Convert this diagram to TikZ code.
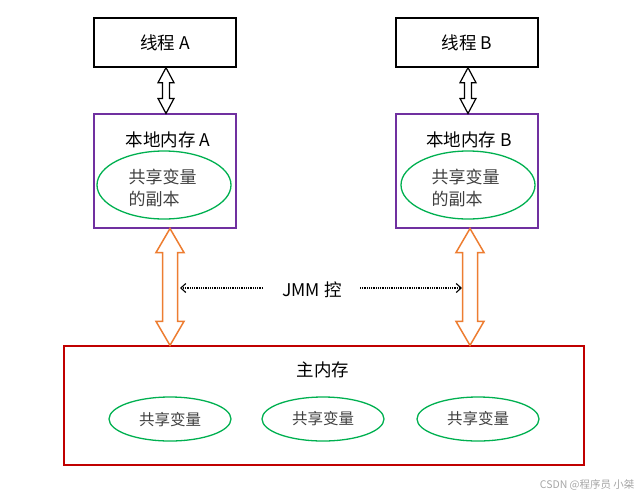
\documentclass[tikz,border=0pt]{standalone}
\usepackage{fontspec}
\setmainfont{Noto Sans CJK SC}
\usetikzlibrary{arrows.meta,calc,shapes.geometric}
\definecolor{cpurple}{HTML}{7030A0}
\definecolor{cred}{HTML}{C00000}
\definecolor{cgreen}{HTML}{00B050}
\definecolor{corange}{HTML}{ED7D31}
\tikzset{
  thread/.style={draw=black,line width=1.4pt,minimum width=142pt,minimum height=49pt,inner sep=0pt},
  local/.style={draw=cpurple,line width=1.1pt,minimum width=142pt,minimum height=114pt,inner sep=0pt},
  mainmem/.style={draw=cred,line width=1.3pt,minimum width=520pt,minimum height=119pt,inner sep=0pt},
  copyell/.style={draw=cgreen,line width=1.3pt,ellipse,minimum width=134pt,minimum height=68pt,inner sep=0pt},
  varell/.style={draw=cgreen,line width=1.3pt,ellipse,minimum width=122pt,minimum height=44pt,inner sep=0pt},
  title/.style={font=\fontsize{17.5}{20}\selectfont,text=black},
  elltext/.style={font=\fontsize{17}{22}\selectfont,text=black!75,align=left},
  vartext/.style={font=\fontsize{15.5}{18}\selectfont,text=black!75},
  dotarrow/.style={dash pattern=on 0.9pt off 0.9pt,line width=1.1pt,-{Straight Barb[length=5pt,width=9pt]}},
  blackdbl/.style={draw=black,line width=1.2pt,fill=white},
  orangedbl/.style={draw=corange,line width=1.5pt,fill=white},
}
% vertical double arrow: #1 top coord, #2 bottom coord, #3 half shaft, #4 half head, #5 head length, #6 style
\newcommand\vdblarrow[6]{%
  \path[#6] let \p1=(#1), \p2=(#2) in
    (\x1,\y1) -- (\x1+#4,\y1-#5) -- (\x1+#3,\y1-#5) -- (\x1+#3,\y2+#5) -- (\x1+#4,\y2+#5)
    -- (\x1,\y2) -- (\x1-#4,\y2+#5) -- (\x1-#3,\y2+#5) -- (\x1-#3,\y1-#5) -- (\x1-#4,\y1-#5) -- cycle;}
\begin{document}
\begin{tikzpicture}[x=1pt,y=-1pt]
\useasboundingbox (0,0) rectangle (640,496);
% threads
\node[thread] (ta) at (165,42.5) {};
\node[title] (tal) at (165,42.5) {线程 A};
\node[thread] (tb) at (467,42.5) {};
\node[title] (tbl) at (467,42.5) {线程 B};
% local memories
\node[local] (la) at (165,171) {};
\node[title] (lal) at (168,140) {本地内存 A};
\node[copyell] (ea) at (164,185) {};
\node[elltext,anchor=west] (eat) at (125,188) {共享变量\\的副本};
\node[local] (lb) at (467,171) {};
\node[title] (lbl) at (469,140) {本地内存 B};
\node[copyell] (eb) at (468,185) {};
\node[elltext,anchor=west] (ebt) at (428,188) {共享变量\\的副本};
% main memory
\node[mainmem] (mm) at (324,405.5) {};
\node[title] (mml) at (323,370) {主内存};
\node[varell] (v1) at (170,419) {};
\node[vartext] (v1t) at (170,420) {共享变量};
\node[varell] (v2) at (323,419) {};
\node[vartext] (v2t) at (323,419) {共享变量};
\node[varell] (v3) at (478,419) {};
\node[vartext] (v3t) at (478,419) {共享变量};
% coordinates for arrows
\coordinate (a1t) at ($(ta.south)+(1,0)$);
\coordinate (a1b) at ($(la.north)+(1,0)$);
\coordinate (b1t) at ($(tb.south)+(1,0)$);
\coordinate (b1b) at ($(lb.north)+(1,0)$);
\coordinate (a2t) at ($(la.south)+(5,0)$);
\coordinate (a2b) at (a2t |- mm.north);
\coordinate (b2t) at ($(lb.south)+(3,0)$);
\coordinate (b2b) at (b2t |- mm.north);
\vdblarrow{a1t}{a1b}{3.5pt}{8pt}{15pt}{blackdbl}
\vdblarrow{b1t}{b1b}{3.5pt}{8pt}{15pt}{blackdbl}
\vdblarrow{a2t}{a2b}{7.5pt}{14pt}{24pt}{orangedbl}
\vdblarrow{b2t}{b2b}{7.5pt}{14pt}{24pt}{orangedbl}
% JMM control
\node[title] (jmm) at (312,290) {JMM 控};
\coordinate (jl) at (180,288);
\coordinate (jr) at (462,288);
\draw[dotarrow] (263,288) -- (jl);
\draw[dotarrow] (360,288) -- (jr);
% watermark
\node[font=\fontsize{10.5}{12}\selectfont,text=black!35,anchor=east] (wm) at (638,485) {CSDN @程序员 小桀};
\end{tikzpicture}
\end{document}
